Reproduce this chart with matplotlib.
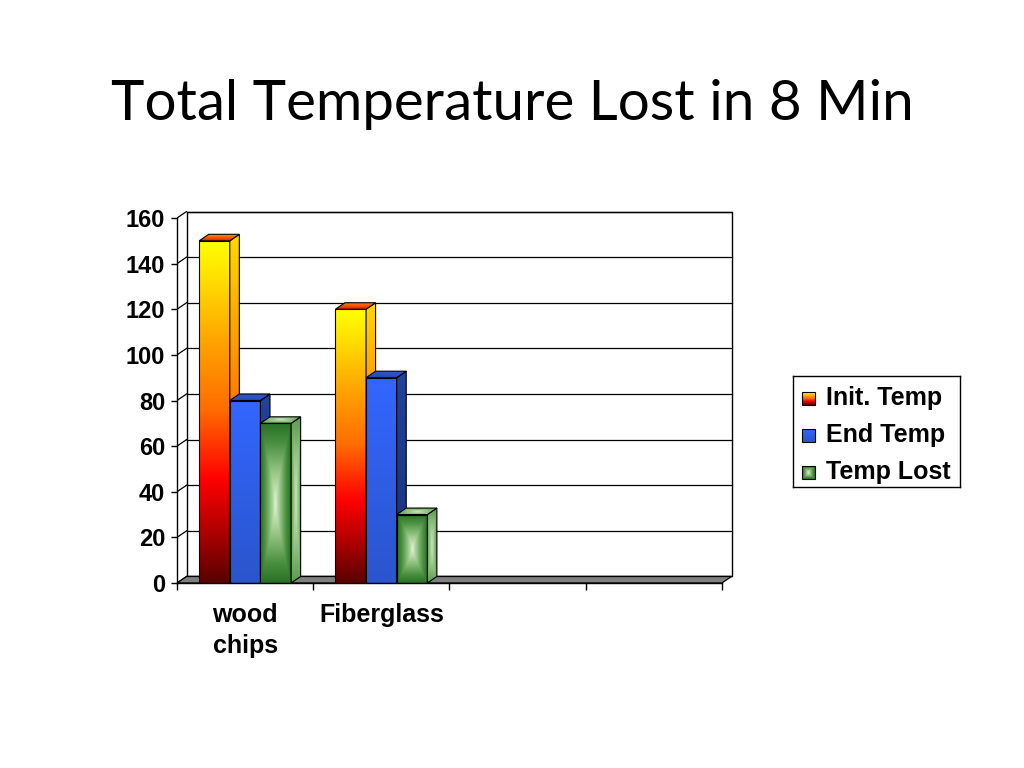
import matplotlib
matplotlib.use("Agg")
import matplotlib.pyplot as plt
from matplotlib.patches import Polygon, Rectangle
from matplotlib.colors import LinearSegmentedColormap
import numpy as np

# Data
categories = ["wood\nchips", "Fiberglass", "", ""]
series_names = ["Init. Temp", "End Temp", "Temp Lost"]
init_temp = [150, 120]
end_temp = [80, 90]
temp_lost = [70, 30]
y_ticks = [0, 20, 40, 60, 80, 100, 120, 140, 160]

# 3D look: depth offset in data units
DX = 0.07
DY = 2.85
BAR_W = 0.225

FONT = ['Liberation Sans', 'DejaVu Sans']

# Colour ramps
cm_init = LinearSegmentedColormap.from_list(
    'init', [(0, '#5a0000'), (0.15, '#b00000'), (0.3, '#ff0000'),
             (0.5, '#ff6a00'), (0.72, '#ffa800'), (0.92, '#ffe800'), (1, '#ffff00')])
cm_init_side = LinearSegmentedColormap.from_list(
    'init_side', [(0, '#6a0000'), (0.3, '#ff1a00'), (0.55, '#ff8000'),
                  (0.8, '#ffb000'), (1, '#ffd800')])
cm_init_top = LinearSegmentedColormap.from_list('init_top', ['#e81800', '#ff9a00'])
cm_end = LinearSegmentedColormap.from_list('end', ['#2a55cc', '#3366ff'])
cm_end_side = LinearSegmentedColormap.from_list('end_side', ['#18307a', '#22439a'])
cm_end_top = LinearSegmentedColormap.from_list('end_top', ['#2448b0', '#2f5ad0'])
cm_lost = LinearSegmentedColormap.from_list(
    'lost', [(0, '#e4f2da'), (0.35, '#9cc98a'), (0.75, '#4a9040'), (1, '#2a7228')])
cm_lost_side = LinearSegmentedColormap.from_list(
    'lost_side', [(0, '#d0e8c4'), (0.6, '#8cbf7c'), (1, '#5c9a50')])


def vgrad(cmap, n=128):
    return cmap(np.linspace(0, 1, n))[:, None, :]


def glow(cmap, n=64):
    u, v = np.meshgrid(np.linspace(0, 1, n), np.linspace(0, 1, n))
    t = np.maximum(np.abs(2 * u - 1), np.abs(2 * v - 1) ** 1.3)
    return cmap(t ** 0.8)


def face(ax, verts, img, z):
    poly = Polygon(verts, closed=True, facecolor='none', edgecolor='black',
                   lw=0.8, zorder=z + 0.01)
    ax.add_patch(poly)
    xs = [p[0] for p in verts]
    ys = [p[1] for p in verts]
    im = ax.imshow(img, extent=(min(xs), max(xs), min(ys), max(ys)), origin='lower',
                   aspect='auto', interpolation='bilinear', zorder=z)
    im.set_clip_path(poly)


def bar3d(ax, x0, h, front, side, top, z):
    x1 = x0 + BAR_W
    face(ax, [(x0, 0), (x1, 0), (x1, h), (x0, h)], front, z)
    face(ax, [(x1, 0), (x1 + DX, DY), (x1 + DX, h + DY), (x1, h)], side, z + 0.02)
    face(ax, [(x0, h), (x1, h), (x1 + DX, h + DY), (x0 + DX, h + DY)], top, z + 0.04)


fig = plt.figure(figsize=(10.24, 7.68), dpi=100)
ax = fig.add_axes([177 / 1024, 1 - 583 / 768, 558.6 / 1024, 376.4 / 768])
n_cat = len(categories)

# Back wall, side wall and floor
wall = Rectangle((DX, DY), n_cat, y_ticks[-1], facecolor='white', edgecolor='black',
                 lw=1.0, zorder=0.5)
ax.add_patch(wall)
for v in y_ticks:
    ax.plot([DX, n_cat + DX], [v + DY, v + DY], color='black', lw=0.9, zorder=1)
    ax.plot([0, DX], [v, v + DY], color='black', lw=0.9, zorder=1)
floor = Polygon([(0, 0), (n_cat, 0), (n_cat + DX, DY), (DX, DY)], closed=True,
                facecolor='#808080', edgecolor='black', lw=0.9, zorder=2)
ax.add_patch(floor)

# Bars
styles = [
    (vgrad(cm_init), vgrad(cm_init_side), vgrad(cm_init_top)),
    (vgrad(cm_end), vgrad(cm_end_side), vgrad(cm_end_top)),
    (glow(cm_lost), glow(cm_lost_side), glow(cm_lost_side)),
]
series = [init_temp, end_temp, temp_lost]
z = 3
for i in range(len(init_temp)):
    for j, vals in enumerate(series):
        x0 = i + 0.5 + (j - 1.5) * BAR_W
        front, side, top = styles[j]
        bar3d(ax, x0, vals[i], front, side, top, z)
        z += 0.1

ax.set_xlim(0, n_cat + 0.1)
ax.set_ylim(0, 165)

for s in ['top', 'right']:
    ax.spines[s].set_visible(False)
ax.spines['left'].set_bounds(0, y_ticks[-1])
ax.spines['bottom'].set_bounds(0, n_cat)
ax.spines['left'].set_linewidth(1.0)
ax.spines['bottom'].set_linewidth(1.0)
ax.spines['left'].set_zorder(6)
ax.spines['bottom'].set_zorder(6)

ax.set_yticks(y_ticks)
ax.set_yticklabels([str(v) for v in y_ticks], fontsize=17, fontweight='bold', family=FONT)
ax.tick_params(axis='y', direction='out', length=4.5, width=1, pad=4)

ax.set_xticks(range(n_cat + 1))
ax.set_xticklabels([])
ax.tick_params(axis='x', which='major', direction='out', length=5, width=1)
ax.set_xticks([i + 0.5 for i in range(n_cat)], minor=True)
ax.set_xticklabels(categories, minor=True, fontsize=18, fontweight='bold', family=FONT,
                   linespacing=1.35)
ax.tick_params(axis='x', which='minor', length=0, pad=14.5)

# Title
fig.text(0.5, 1 - 104 / 768, "Total Temperature Lost in 8 Min", ha='center', va='center',
         fontsize=40.7, family=['Lato', 'DejaVu Sans'])

# Legend box
lax = fig.add_axes([793 / 1024, 1 - 487 / 768, 167 / 1024, 111 / 768])
lax.set_xlim(0, 1)
lax.set_ylim(0, 1)
lax.set_xticks([])
lax.set_yticks([])
for s in lax.spines.values():
    s.set_linewidth(1.0)
rows = [0.80, 0.468, 0.135]
sw, sh = 13 / 167, 13 / 111
for name, (front, _, _), yc in zip(series_names, styles, rows):
    sq = Rectangle((9 / 167, yc - sh / 2), sw, sh, facecolor='none', edgecolor='black',
                   lw=0.8, zorder=3)
    lax.add_patch(sq)
    im = lax.imshow(front, extent=(9 / 167, 9 / 167 + sw, yc - sh / 2, yc + sh / 2),
                    origin='lower', aspect='auto', interpolation='bilinear', zorder=2)
    im.set_clip_path(sq)
    lax.text(33 / 167, yc, name, va='center', ha='left', fontsize=18, fontweight='bold',
             family=FONT)
lax.set_xlim(0, 1)
lax.set_ylim(0, 1)

fig.savefig("out.png", dpi=100)
